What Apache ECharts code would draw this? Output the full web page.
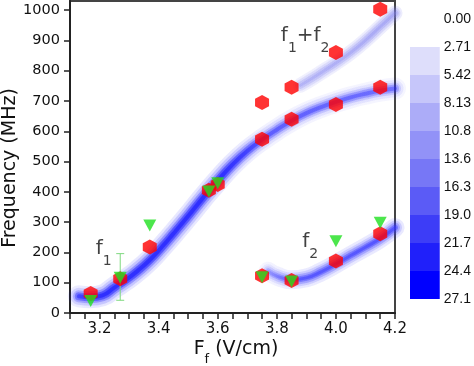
<!DOCTYPE html>
<html><head><meta charset="utf-8">
<script src="https://cdn.jsdelivr.net/npm/echarts@6/dist/echarts.min.js"></script>
<style>html,body{margin:0;padding:0;background:#fff}#c{width:474px;height:366px}</style>
</head><body><div id="c"></div>
<script>
// ---- data ----
const xTickLabels = [3.2, 3.4, 3.6, 3.8, 4.0, 4.2];
const yTickLabels = [0, 100, 200, 300, 400, 500, 600, 700, 800, 900, 1000];
const hexF1 = [[3.17, 64], [3.27, 113], [3.37, 218], [3.57, 405], [3.60, 424]];
const hexF2 = [[3.75, 123], [3.85, 107], [4.00, 172], [4.15, 262]];
const hexUpper = [[3.75, 574], [3.85, 640], [4.00, 688], [4.15, 745]];
const hexSum = [[3.75, 695], [3.85, 745], [4.00, 860], [4.15, 1003]];
const triDown = [[3.17, 40], [3.27, 116], [3.37, 289], [3.57, 401], [3.60, 428], [3.75, 118], [3.85, 104], [4.00, 237], [4.15, 298]];
const errBars = [[3.27, 42, 196]];
const bandF1 = [[3.13, 55], [3.17, 52], [3.21, 58], [3.25, 84], [3.29, 110], [3.33, 140], [3.37, 175], [3.41, 217], [3.45, 262], [3.50, 320], [3.55, 380], [3.60, 437], [3.65, 490], [3.70, 535], [3.75, 572], [3.80, 605], [3.85, 635], [3.90, 660], [3.95, 680], [4.00, 697], [4.05, 712], [4.10, 724], [4.15, 734], [4.20, 741]];
const bandSum = [[3.88, 752], [3.92, 775], [3.96, 800], [4.00, 825], [4.05, 860], [4.10, 900], [4.15, 945], [4.20, 990]];
const bandF2 = [[3.77, 138], [3.80, 122], [3.85, 110], [3.90, 116], [3.95, 136], [4.00, 162], [4.05, 190], [4.10, 217], [4.15, 246], [4.20, 282]];
const cbLevels = [0, 2.71, 5.42, 8.13, 10.84, 13.55, 16.26, 18.97, 21.68, 24.39, 27.1];
const annotText = ['{m|f}{s|1}', '{m|f}{s|2}', '{m|f}{s|1}{m|+f}{s|2}'];
const annotPos = [[3.214, 212], [3.913, 235], [3.896, 915]];
const xName = '{a|F}{s|f}{a| (V/cm)}';
const yName = 'Frequency (MHz)';

// ---- styles ----
const cbColors = ['#ffffff', '#dedefb', '#c6c6fa', '#acacf8', '#9292f7', '#7777f6', '#5b5bf6', '#3d3df7', '#2020fa', '#0000ff'];
const FONT = 'DejaVu Sans';

// a band = concentric translucent strokes; strength varies along x with a gradient
function band(data, rgb, layers, strength) {
  return layers.map(l => ({
    type: 'line', xAxisIndex: 0, yAxisIndex: 0, data: data, smooth: 0.5, symbol: 'none', silent: true, z: 1,
    lineStyle: {
      width: l[0], cap: 'round', join: 'round', shadowBlur: 3, shadowColor: 'rgba(' + rgb + ',' + (l[1] * 0.5) + ')',
      color: { type: 'linear', x: 0, y: 0, x2: 1, y2: 0,
        colorStops: strength.map(s => ({ offset: s[0], color: 'rgba(' + rgb + ',' + Math.min(1, l[1] * s[1]).toFixed(3) + ')' })) }
    }
  }));
}

const series = [];
series.push(...band(bandF1, '35,35,255', [[22, 0.10], [17, 0.16], [12, 0.28], [8, 0.48], [4, 0.7]],
  [[0, 0.7], [0.08, 1], [0.45, 1], [0.6, 0.55], [1, 0.45]]));
series.push(...band(bandSum, '130,130,240', [[15, 0.14], [11, 0.2], [7, 0.28], [3, 0.3]],
  [[0, 0.8], [1, 1]]));
series.push(...band(bandF2, '55,55,255', [[19, 0.11], [14, 0.16], [10, 0.26], [6, 0.4], [3, 0.5]],
  [[0, 0.35], [0.25, 0.9], [1, 0.95]]));
series.push({
  type: 'custom', xAxisIndex: 0, yAxisIndex: 0, z: 3, data: errBars, silent: true,
  renderItem: function (params, api) {
    const x = api.value(0);
    const lo = api.coord([x, api.value(1)]);
    const hi = api.coord([x, api.value(2)]);
    const st = { stroke: '#7fd97f', lineWidth: 1 };
    return { type: 'group', children: [
      { type: 'line', shape: { x1: lo[0], y1: lo[1], x2: hi[0], y2: hi[1] }, style: st },
      { type: 'line', shape: { x1: lo[0] - 4, y1: lo[1], x2: lo[0] + 4, y2: lo[1] }, style: st },
      { type: 'line', shape: { x1: hi[0] - 4, y1: hi[1], x2: hi[0] + 4, y2: hi[1] }, style: st }
    ] };
  }
});
const hexPath = 'path://M0,-1L0.866,-0.5L0.866,0.5L0,1L-0.866,0.5L-0.866,-0.5Z';
[hexF1, hexF2, hexUpper, hexSum].forEach(d => series.push({
  type: 'scatter', xAxisIndex: 0, yAxisIndex: 0, data: d, symbol: hexPath, symbolSize: [14, 15], z: 4, silent: true,
  itemStyle: { color: '#ff0000' }
}));
series.push({
  type: 'scatter', xAxisIndex: 0, yAxisIndex: 0, data: triDown, symbol: 'triangle', symbolRotate: 180, symbolSize: [13, 12], z: 5, silent: true,
  itemStyle: { color: '#1fe01f' }
});
const richMain = { fontFamily: FONT, fontSize: 20, lineHeight: 20, verticalAlign: 'top', color: '#111' };
const richSub = { fontFamily: FONT, fontSize: 14, lineHeight: 14, padding: [16, 0, 0, 0], verticalAlign: 'top', color: '#111' };
series.push({
  type: 'scatter', xAxisIndex: 0, yAxisIndex: 0, z: 6, silent: true, symbolSize: 1, itemStyle: { color: 'rgba(0,0,0,0)' },
  data: annotPos.map((p, i) => ({ value: p, label: { formatter: annotText[i] } })),
  label: { show: true, position: 'inside', rich: { m: richMain, s: richSub } }
});
// colorbar blocks
for (let i = 0; i < cbLevels.length - 1; i++) {
  series.push({
    type: 'bar', xAxisIndex: 1, yAxisIndex: 1, stack: 'cb', barWidth: '100%', silent: true,
    data: [cbLevels[i + 1] - cbLevels[i]], itemStyle: { color: cbColors[i] }
  });
}

const chart = echarts.init(document.getElementById('c'), null, { renderer: 'canvas' });
chart.setOption({
  animation: false,
  backgroundColor: '#fff',
  grid: [
    { left: 70, right: 79, top: 1, bottom: 53, show: true, borderColor: '#444', borderWidth: 2 },
    { left: 410, width: 33, top: 19, height: 280 }
  ],
  graphic: [
    { type: 'text', x: 236, y: 340, silent: true,
      style: { text: xName, align: 'center', verticalAlign: 'top',
        rich: {
          a: { fontFamily: FONT, fontSize: 19, lineHeight: 20, verticalAlign: 'top', fill: '#111' },
          s: { fontFamily: FONT, fontSize: 13, lineHeight: 13, padding: [13, 0, 0, 0], verticalAlign: 'top', fill: '#111' }
        } } },
    { type: 'text', x: 10, y: 168, rotation: Math.PI / 2, silent: true,
      style: { text: yName, align: 'center', verticalAlign: 'middle', font: '19px "DejaVu Sans"', fill: '#111' } }
  ],
  xAxis: [
    {
      type: 'value', gridIndex: 0, min: 3.1, max: 4.2, interval: 0.05,
      axisLine: { lineStyle: { color: '#222', width: 2 } },
      axisTick: { show: true, length: 6, lineStyle: { color: '#222', width: 1.5 } },
      splitLine: { show: false },
      axisLabel: { customValues: xTickLabels, formatter: v => v.toFixed(1), margin: 9, fontFamily: FONT, fontSize: 15, color: '#111' }
    },
    { type: 'category', gridIndex: 1, data: ['cb'], show: false }
  ],
  yAxis: [
    {
      type: 'value', gridIndex: 0, min: 0, max: 1030,
      axisLine: { show: true, lineStyle: { color: '#222', width: 2 } },
      axisTick: { show: true, length: 6, customValues: yTickLabels, lineStyle: { color: '#222', width: 1.5 } },
      splitLine: { show: false },
      axisLabel: { customValues: yTickLabels, formatter: v => String(v), margin: 10, fontFamily: FONT, fontSize: 14.5, color: '#111' }
    },
    {
      type: 'value', gridIndex: 1, min: 0, max: 27.1, inverse: true, position: 'right',
      axisLine: { show: false }, axisTick: { show: false }, splitLine: { show: false },
      axisLabel: { customValues: cbLevels, formatter: v => v.toPrecision(3), margin: 4, fontFamily: 'Liberation Sans', fontSize: 14, color: '#111' }
    }
  ],
  series: series
});
</script>
</body></html>
